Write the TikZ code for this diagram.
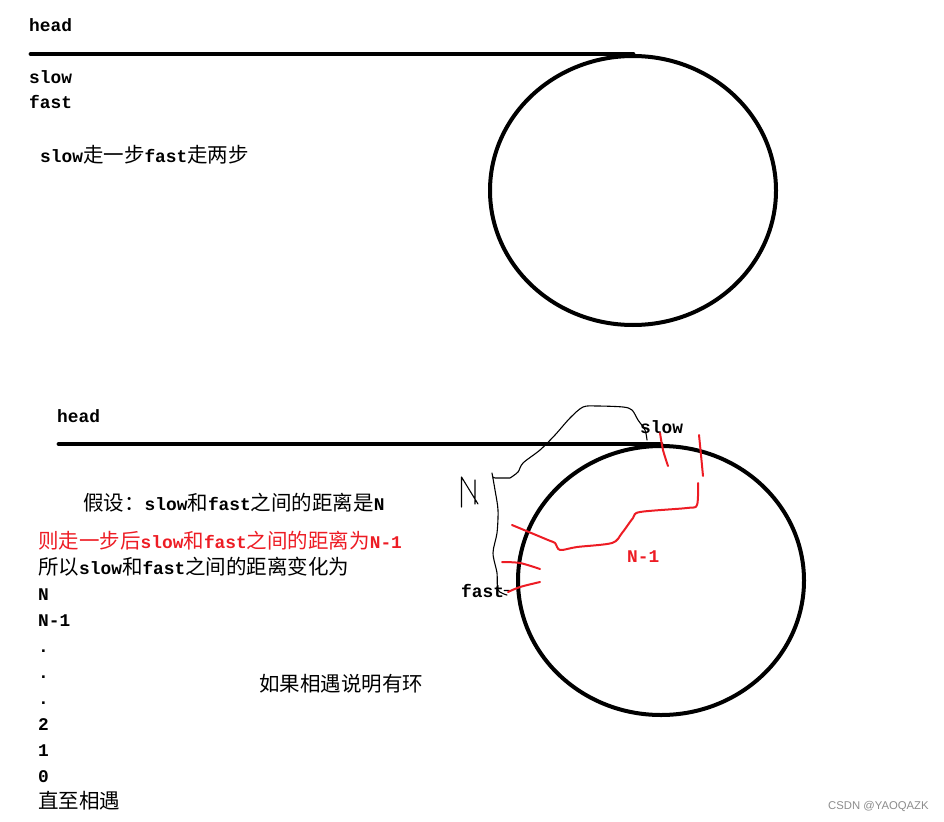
\documentclass[tikz,border=0pt]{standalone}
\usepackage{fontspec}
\setmainfont{Liberation Mono}[Scale=0.87]
\newfontfamily\cjk{Noto Sans CJK SC}
\newfontfamily\marksf{Liberation Sans}
\usetikzlibrary{shapes.geometric}
\definecolor{paintred}{RGB}{237,28,36}
\newcommand{\zh}[1]{{\cjk\mdseries #1}}

\begin{document}
\begin{tikzpicture}[x=1pt, y=-1pt,
    txt/.style={
        anchor=base west,
        inner sep=0pt,
        font=\fontsize{20.5}{26}\selectfont\bfseries
    },
    redtxt/.style={txt, text=paintred},
    ringbox/.style={
        ellipse,
        draw=black,
        line width=4pt,
        minimum width=286pt, minimum height=269pt,
        inner sep=0pt
    },
    listline/.style={line width=4.8pt, line cap=round},
    scribble/.style={line width=1.1pt, line join=round, line cap=round},
    redmark/.style={paintred, line width=2pt, line cap=round, line join=round}
]
\useasboundingbox (0,0) rectangle (944,821);

% first sketch
\node[ringbox] (ringA) at (633,190.5) {};
\coordinate (tailA) at (31,54);
\draw[listline] (tailA) -- (ringA.north);

\node[txt] (headA) at (29,32) {head};
\node[txt] (slowA) at (29,84) {slow};
\node[txt] (fastA) at (29,109) {fast};
\node[txt] (ruleA) at (40,163) {slow\zh{走一步}fast\zh{走两步}};

% second sketch
\node[ringbox] (ringB) at (661,580.5) {};
\coordinate (tailB) at (59,444);
\draw[listline] (tailB) -- (ringB.north);

\node[txt] (headB) at (57,422) {head};
\node[txt] (slowB) at (640,433) {slow};
\node[txt] (fastB) at (461,597) {fast};
\node[redtxt] (gapB) at (627,562) {N-1};

\draw[scribble] (fastB.east) -- ++(5,0)
    plot[smooth] coordinates {(507,595) (498,590) (497,573) (493,553)
        (497,533) (498,510) (495,490) (492,473)}
    (493,477) -- (495,478) -- (510,478)
    plot[smooth] coordinates {(510,478) (518,472) (523,463) (540,450)
        (555,435) (570,418) (583,407) (597,406) (623,407) (632,410)
        (638,420) (645,430) (647,440)};
\draw[scribble] (461.5,507) -- (461.5,477) -- (478,504)
    (475,480) -- (475,504);

\draw[redmark] plot[smooth] coordinates {(660,433) (663,450) (668,466)};
\draw[redmark] plot[smooth] coordinates {(699,435) (701,455) (703,476)};
\draw[redmark] plot[smooth] coordinates {(698,483) (697,505) (687,508)
    (640,512) (633,518) (622,533) (612,543) (577,547) (560,550)
    (555,543) (548,540) (512,525)};
\draw[redmark] plot[smooth] coordinates {(502,562) (520,563) (540,569)};
\draw[redmark] plot[smooth] coordinates {(508,592) (520,587) (540,582)};

\node[txt] (assumeB) at (83,510) {\zh{假设：}slow\zh{和}fast\zh{之间的距离是}N};
\node[redtxt] (stepB) at (38,548) {\zh{则走一步后}slow\zh{和}fast\zh{之间的距离为}N-1};
\node[txt] (changeB) at (38,574) {\zh{所以}slow\zh{和}fast\zh{之间的距离变化为}};
\node[txt] (distN) at (38,600) {N};
\node[txt] (distM) at (38,626) {N-1};
\node[txt] (dotA) at (38,652) {.};
\node[txt] (dotB) at (38,678) {.};
\node[txt] (dotC) at (38,704) {.};
\node[txt] (distTwo) at (38,730) {2};
\node[txt] (distOne) at (38,756) {1};
\node[txt] (distZero) at (38,782) {0};
\node[txt] (meetB) at (38,808) {\zh{直至相遇}};
\node[txt] (cycleB) at (259,691) {\zh{如果相遇说明有环}};

\node[anchor=base west, inner sep=0pt, text=black!45,
      font=\marksf\fontsize{11.3}{13}\selectfont] (mark) at (828,809) {CSDN @YAOQAZK};

\end{tikzpicture}
\end{document}
